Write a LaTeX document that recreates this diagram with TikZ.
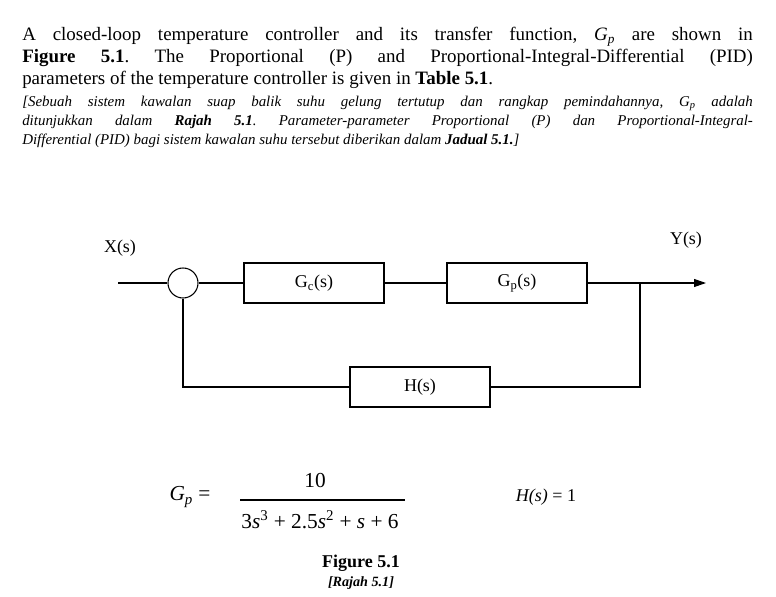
\documentclass[tikz,border=0pt]{standalone}
\usepackage{fontspec}
\setmainfont{Liberation Serif}
\usetikzlibrary{arrows.meta}
\begin{document}
\frenchspacing
\begin{tikzpicture}[x=0.75pt,y=-0.75pt,
  blk/.style={draw,line width=0.8pt,minimum width=105pt,minimum height=30pt,font=\fontsize{13.5}{16}\selectfont},
  ln/.style={line width=0.8pt},
  eqf/.style={font=\fontsize{16}{18}\selectfont,inner sep=1pt}]
\useasboundingbox (0,0) rectangle (776,597);
\node[anchor=north west,inner sep=0pt,text width=548pt,align=justify,font=\fontsize{14.2}{16.5}\selectfont] (p1) at (22,27)
{\frenchspacing A closed-loop temperature controller and its transfer function, \textit{G\textsubscript{p}} are shown in\linebreak
\textbf{Figure 5.1}. The Proportional (P) and Proportional-Integral-Differential (PID)\linebreak
parameters of the temperature controller is given in \textbf{Table 5.1}.};
\node[anchor=north west,inner sep=0pt,text width=548pt,align=justify,font=\fontsize{11.2}{14.3}\selectfont\itshape] (p2) at (22,96)
{\frenchspacing [Sebuah sistem kawalan suap balik suhu gelung tertutup dan rangkap pemindahannya, \textit{G\textsubscript{p}} adalah\linebreak
ditunjukkan dalam \textbf{Rajah 5.1}. Parameter-parameter Proportional (P) dan Proportional-Integral-\linebreak
Differential (PID) bagi sistem kawalan suhu tersebut diberikan dalam \textbf{Jadual 5.1.}]};

\node[draw,circle,line width=0.8pt,minimum size=22.5pt,inner sep=0pt] (sum) at (183,283) {};
\node[blk] (gc) at (314,283) {G\textsubscript{c}(s)};
\node[blk] (gp) at (517,283) {G\textsubscript{p}(s)};
\node[blk] (h) at (420,387) {H(s)};
\coordinate (in) at (118,283);
\coordinate (out) at (706,283);
\coordinate (br) at (640,283);
\coordinate (c1) at (640,387);
\coordinate (c2) at (183,387);
\node[font=\fontsize{13.5}{16}\selectfont] (xs) at (120,248) {X(s)};
\node[font=\fontsize{13.5}{16}\selectfont] (ys) at (686,240) {Y(s)};
\draw[ln] (in) -- (sum);
\draw[ln] (sum) -- (gc);
\draw[ln] (gc) -- (gp);
\draw[ln,-{Triangle[length=9pt,width=6pt]}] (gp) -- (out);
\draw[ln] (br) -- (c1) -- (h);
\draw[ln] (h) -- (c2) -- (sum);

\node[eqf] (gpl) at (190,497) {\textit{G\textsubscript{p}} =};
\coordinate (fl) at (240,500);
\coordinate (fr) at (405,500);
\draw[line width=0.9pt] (fl) -- (fr);
\node[eqf] (num) at (315,481) {10};
\node[eqf] (den) at (320,520) {3\textit{s}\textsuperscript{3} + 2.5\textit{s}\textsuperscript{2} + \textit{s} + 6};
\node[font=\fontsize{13.5}{16}\selectfont] (hs) at (546,497) {\textit{H(s)} = 1};
\node[font=\fontsize{13.5}{16}\selectfont\bfseries] (fig) at (361,563) {Figure 5.1};
\node[font=\fontsize{10.6}{13}\selectfont\bfseries\itshape] (raj) at (361,583) {[Rajah 5.1]};
\end{tikzpicture}
\end{document}
